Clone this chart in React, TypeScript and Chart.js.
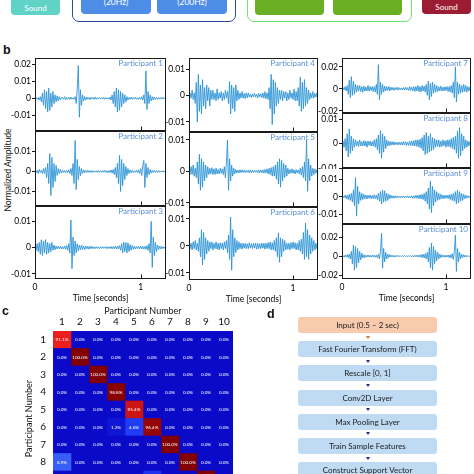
import React, { useEffect, useRef } from "react";
import { Chart, registerables } from "chart.js";
Chart.register(...registerables);

const FONT = "Lato, 'Open Sans', sans-serif";

// ---------- panel b: waveforms (values in units of 0.001) ----------
const SAMPLE_DT = 0.01;
const WAVE_UNIT = 0.001;
const TIME_MAX = 1.24;
const TIME_TICKS = [0, 1];

const WAVE_P1 = [0,0.5,-0.5,0.5,-1, 1,-2,3,-4,5,-6,4,-8,6,-7,3,-5,4,-3,2,-2,1.5,-1.5,1,-1,0.5, 0.5,-0.5,1,-0.8,0.6,-0.5,0.5,-0.6,0.8,-0.5,0.3,-0.5, 1,-3,6,19,-11,5,-4,2,-1.5, 1,-1,0.8,-0.5,0.5,-0.8,0.6,-0.4,0.5,-0.5,0.8,-0.6,0.4,-0.4,0.5,-0.3,0.4,-0.5,0.6,-0.5,0.4,-0.4,0.3,-0.5,0.8,-1, 2,-3,4,-5,6,-8,5,-7,4,-5,3,-3,2,-2,1,-1, 0.5,-0.5,0.8,-0.6,0.5,-0.4,0.6,-0.5,0.4,-0.6,0.5,-0.5,1,-1, 2,-3,16,-6.5,4,-3,2, -1.5,1,-1,0.8,-0.6,0.5,-0.5,0.6,-0.4,0.5,-0.5,0.6,-0.3,0.4,0];
const WAVE_P2 = [0,-0.5,0.5,-1,1,-0.5,0.5,-1,1.5,-1, 2,-3,4,-6,9,-12,7,-8,4,-5,3,-2,1.5, -1,1,-0.8,0.6,-0.5,0.5,-0.6,0.5,-0.5,0.8,-1,1.5, -2,4,-6,15.5,-9,6,-4,2.5,-2, 1.5,-1,0.8,-0.6,0.5,-0.5,0.6,-0.4,0.4,-0.5,0.5,-0.4,0.3,-0.3,0.4,-0.5,0.5,-0.4,0.3,-0.4,0.5,-0.4,0.6,-0.5,0.4,-0.6,0.5,-0.5,0.8,-0.8,1,-1.5, 2,-3,4,-6,8,-10,6,-7,4,-4,2.5,-2,1.5,-1, 0.8,-0.6,0.5,-0.5,0.4,-0.4,0.6,-0.5,0.8,-1,1.5, -2,3,5.5,-8,4,-3,2,-1.5, 1,-0.8,0.6,-0.5,0.5,-0.4,0.4,-0.5,0.5,-0.4,0.3,-0.3,0.4,-0.3,0.2,0];
const WAVE_P3 = [0.5,-1,1.5,-1.5,2,-2.5,3,-3,2.5,-2,3,-2.5,2,-2,1.5,-1.5,2,-1,1,-0.8, 0.6,-0.5,0.5,-0.4,0.5,-0.5,0.4,-0.5,0.6,-0.6,0.8,-1, 1.5,-2,10.5,-8,4,-3,2.5,-2,1.5, -1.2,1,-0.8,1,-0.7,0.6,-0.8,0.6,-0.5,0.5,-0.6,0.5,-0.4,0.5,-0.4,0.3,-0.4,0.4,-0.3,0.3,-0.4,0.3,-0.3,0.4,-0.3,0.3,-0.3,0.4,-0.4,0.3,-0.3,0.4,-0.5,0.4,-0.4,0.5,-0.5,0.6,-0.5,0.8, -1,1.5,-2,2,-1.5,2,-2,1.8,-1.5,1.2,-1,0.8,-0.6,0.5, -0.5,0.5,-0.4,0.5,-0.5,0.6,-0.5,0.5,-0.6,0.5,-0.6,0.8,-1,1.5, -2,10,-7.5,4,-3,2,-1.5,1, -0.8,0.6,-0.5,0.5,-0.4,0.3,-0.3,0];
const WAVE_P4 = [0,1,-1,2,-1.5,1, -3,5,-10,8,-6,4,-7,6,-4,3,-5,4,-2,3,-4,2,-1.5, 2,-1.5,1,-2,2.5,-1.5,1,-1,1.5,-2,1,-1.5,2,-1,1.5, -3,5.3,-7,4,-5,3,-6,4,-2,2, -1.5,1,-1,1.5,-1,0.8,-1.2,1,-0.8,1,-0.6,0.5,-0.8,0.6,-0.5,0.8,-0.6,0.5,-1,0.8,-0.5,0.6,-0.8,1,-1,1.5,-1.2,1,-1.5, 3,-5,8,-11,6,-7,5,-4,3,-3,2, -1.5,2,-2,1.5,-1,1.5,-2,1,-1.5,2,-1,1,-1.5,2.5,-2,1.5,-2, 3,-4,7,-6,5,-5,6,-4,3,-3,2, -1.5,1,-1,1.5,-1,0.8,-0.6,1,-0.5];
const WAVE_P5 = [0.5,-1,1.5,-1,2,-1.5,1,-2, 3,-4,5.4,-6,4,-5,3,-3,2,-2,1.5, -1,1,-0.8,1.2,-1,0.8,-1,1,-0.8,0.6,-0.8,1,-0.6,0.8,-1,1.5,-2, 3,10,-6,4,-3,2, -1.5,1,-0.8,0.6,-0.5,0.4,-0.5,0.5,-0.4,0.5,-0.3,0.4,-0.4,0.3,-0.3,0.4,-0.5,0.5,-0.4,0.3,-0.3,0.4,-0.3,0.3,-0.4,0.5,-0.5,0.4,-0.4,0.5,-0.6,0.6,-0.5,0.8,-0.8,1,-1,1.2,-1.5,1.5,-1.5,2, -2.5,3,-4,4,-5,3.5,-3,2.5,-2,2,-1.5,1, -0.8,0.6,-0.6,0.8,-0.6,0.5,-0.8,0.6,-0.5,0.5,-0.8,1,-1.2,1.5,-2, 3,-3,10,-6.3,4,-3,2, -1.5,1,-1,0.8,-0.6,0.5,-0.3];
const WAVE_P6 = [0.5,-1,1,-1.5,1.5,-1,2,-1.5,1,-2, 3,-4,6,-7,5,-5,3,-3,2,-2,1.5, -1,1.5,-1.5,1,-1,1.5,-1.2,1,-1.5,1.2,-1,1,-1.5,1.5,-1,2,-2.5, 4,-5,10.7,-9,6,-4,3,-2.5,2, -1.5,1.5,-1,1,-1.2,1,-0.8,1,-1,0.8,-1,1.2,-0.8,0.8,-1,1,-0.8,1,-1.2,1,-1,0.8,-1,1,-0.8,1,-1.2,1,-1,1.2,-1,1.5,-1.5,1.2,-1.5,2,-2, 3,-4,4.8,-6,3,-4,2.5,-2,2,-1.5, 1,-1.2,1,-1.5,1.2,-1,1.5,-1,1.2,-1.5,1,-1.5,2,-2,2.5, -3,5,-5,8.5,-4,6,-5,4,-3,3,-2,2,-1.5, 1,-1,0.5];
const WAVE_P7 = [0,1,-1,2,-2,3, -5,8,-8,11,-6,7,-5,4,-3,3, -2,3,-2.5,2,-3,2.5,-2,1.5,-2,3,-2,2,-1.5,2,-2.5,2,-3,4, -5,22,-10,6,-5,4,-3, 2.5,-2,2,-1.5,2,-2,1.5,-1,1.2,-1.5,1,-1,1.5,-1.2,1,-1,0.8,-1,1,-1.2,1.5,-1,1,-1.5,2,-1.5,1.5,-2,2,-2.5,2,-2,3,-2.5,2,-3,3,-2,2.5,-3, 4,-6,7,-10,5,-7,6,-4,4,-3,3,-2.5, 2,-2,2.5,-2,1.5,-2,2,-1.5,2,-2.5,2,-3,3,-4, 6,-8,20,-12,6,-5,4, -4,3,-3,4,-2.5,3,-3,2,-2,1.5,-1];
const WAVE_P8 = [0,1,-1.5,2, -3,4,-5.5,6,-4,3,-3,2,-1.5, 1.5,-1,1,-1.2,1.5,-1,0.8,-1,1.2,-1,1,-1.5,1,-0.8,1,-1,0.8,-1,1.5,-1.5,2,-2.5, 3.5,-4,5.3,-6,4,-3.5,3,-2,1.5, -1,1,-0.8,0.8,-0.6,0.8,-0.6,0.6,-0.5,0.5,-0.6,0.6,-0.5,0.6,-0.6,0.8,-0.6,0.8,-0.8,0.6,-0.8,1,-0.8,1,-1,1.2,-1,1.5,-1.2,1.5,-1.5,1.8,-2, 2.5,-3,3.5,-4.5,4.5,-4,3,-3.5,4,-3,2.5,-2.5,2,-1.5, 1.5,-1.2,1.5,-1.5,1,-1.2,1.5,-1,1.2,-1.5,1.5,-1.2,1.5,-1.5,2,-2,2.5,-2.5,3, -4,5,-6,6.5,-5,4,-3,3,-2, 1.5,-1.5,1,-1,0.8,-0.5];
const WAVE_P9 = [0,0.5,-0.5,1,-1,1,-1.5,1.5,-2,2, -3,4,-5,11,-11,6,-4,3,-2,2, -1.5,1.5,-1,1,-1.2,1,-0.8,1,-1,0.8,-1,1.2,-1,1,-1.5,2, -2.5,3,-4,4,-3,3.5,-2.5,2,-2,1.5, -1,1,-0.8,0.6,-0.8,0.6,-0.5,0.6,-0.5,0.4,-0.5,0.5,-0.4,0.5,-0.5,0.4,-0.5,0.6,-0.5,0.5,-0.6,0.6,-0.8,0.6,-0.8,1,-0.8,1,-1,1.2,-1.2,1.5,-1.5,2,-2.5,3, -4,5,-7,9,-9,6,-5,4,-3,3,-2,2,-1.5, 1.5,-1,1,-1.2,1,-0.8,1,-1,1.2,-1.5,1.5,-2,2, -2.5,3,-4,4,-3.5,3,-2.5,2,-2,1.5, -1,1,-0.8,0.6,-0.5,0.4,-0.2];
const WAVE_P10 = [0,0.5,-1,1,-1,1.5,-1.5,2,-3, 5,-8,11.6,-14.7,10,-12,8,-7,5,-4,3,-2, 1.5,-1.5,1,-1,1.2,-1,0.8,-1,1,-0.8,1,-1.2,1,-1.5,2,-3, 5,24,-12.6,8,-6,4,-3,2, -1.5,1.5,-1,1,-0.8,0.8,-1,0.8,-0.6,0.8,-0.6,0.5,-0.6,0.5,-0.5,0.6,-0.5,0.5,-0.6,0.6,-0.5,0.6,-0.8,0.6,-0.8,1,-0.8,1,-1,1.2,-1,1.5,-1.5,2,-2,2.5,-3,4, -6,9,-12,13.7,-14.7,10,-8,6,-5,4,-3,2, -1.5,1.5,-1,1,-1.2,1,-1,1.2,-1.5,1.5,-2,2.5,-3.5, 5,22,-16,8,-6,4,-3,2, -1.5,1.5,-1,1,-0.8,0.6,-0.5,0.4,0];

const WAVES = [WAVE_P1, WAVE_P2, WAVE_P3, WAVE_P4, WAVE_P5, WAVE_P6, WAVE_P7, WAVE_P8, WAVE_P9, WAVE_P10];
const PARTICIPANT_LABELS = ["Participant 1","Participant 2","Participant 3","Participant 4","Participant 5","Participant 6","Participant 7","Participant 8","Participant 9","Participant 10"];
const Y_MIN = [-0.019, -0.0172, -0.0119, -0.0138, -0.0113, -0.0126, -0.022, -0.01, -0.0155, -0.024];
const Y_MAX = [0.0235, 0.0202, 0.0158, 0.0142, 0.0125, 0.0144, 0.028, 0.0125, 0.0165, 0.0337];
const Y_TICKS = [
  [-0.01, 0, 0.01, 0.02],
  [-0.01, 0, 0.01],
  [-0.01, 0, 0.01],
  [-0.01, 0, 0.01],
  [-0.01, 0, 0.01],
  [-0.01, 0, 0.01],
  [-0.02, 0, 0.02],
  [-0.01, 0, 0.01],
  [-0.01, 0, 0.01],
  [-0.02, 0, 0.02],
];

// layout of plot areas (pixels)
const PLOT_BOXES = [
  { x: 35, y: 58, w: 131, h: 73, bottom: false },
  { x: 35, y: 131, w: 131, h: 75, bottom: false },
  { x: 35, y: 206, w: 131, h: 73, bottom: true },
  { x: 189, y: 58, w: 129, h: 74, bottom: false },
  { x: 189, y: 132, w: 129, h: 75, bottom: false },
  { x: 189, y: 207, w: 129, h: 73, bottom: true },
  { x: 342, y: 58, w: 129, h: 55, bottom: false },
  { x: 342, y: 113, w: 129, h: 55, bottom: false },
  { x: 342, y: 168, w: 129, h: 56, bottom: false },
  { x: 342, y: 224, w: 129, h: 55, bottom: true },
];

// ---------- panel c: confusion matrix (%) ----------
const CM_ROW_LABELS = ["1","2","3","4","5","6","7","8","9","10"];
const CM_COL_LABELS = ["1","2","3","4","5","6","7","8","9","10"];
const CM_VALUES = [
  [91.1, 0, 0, 0, 0, 0, 0, 0, 0, 0],
  [0, 100, 0, 0, 0, 0, 0, 0, 0, 0],
  [0, 0, 100, 0, 0, 0, 0, 0, 0, 0],
  [0, 0, 0, 98.8, 0, 0, 0, 0, 0, 0],
  [0, 0, 0, 0, 95.4, 0, 0, 0, 0, 0],
  [0, 0, 0, 1.2, 4.6, 96.4, 0, 0, 0, 0],
  [0, 0, 0, 0, 0, 0, 100, 0, 0, 0],
  [8.9, 0, 0, 0, 0, 0, 0, 100, 0, 0],
  [0, 0, 0, 0, 0, 3.6, 0, 0, 100, 0],
  [0, 0, 0, 0, 0, 0, 0, 0, 0, 100],
];
const CM_STOPS = [0, 5, 9, 91, 95.4, 96.4, 100];
const CM_STOP_COLORS = [[10,10,200],[35,65,250],[55,95,245],[238,30,30],[205,20,20],[150,5,5],[130,0,0]];

// ---------- panel d: pipeline ----------
const FLOW_STEPS = ["Input (0.5 \u2013 2 sec)", "Fast Fourier Transform (FFT)", "Rescale [0, 1]", "Conv2D Layer", "Max Pooling Layer", "Train Sample Features", "Construct Support Vector"];

function cmColor(v: number) {
  for (let k = 1; k < CM_STOPS.length; k++) {
    if (v <= CM_STOPS[k]) {
      const t = (v - CM_STOPS[k - 1]) / (CM_STOPS[k] - CM_STOPS[k - 1]);
      const a = CM_STOP_COLORS[k - 1], b = CM_STOP_COLORS[k];
      const c = a.map((x, i) => Math.round(x + (b[i] - x) * t));
      return `rgb(${c[0]},${c[1]},${c[2]})`;
    }
  }
  const l = CM_STOP_COLORS[CM_STOP_COLORS.length - 1];
  return `rgb(${l[0]},${l[1]},${l[2]})`;
}

const waveDecor = {
  id: "waveDecor",
  afterDraw(chart: any, _args: any, opts: any) {
    const { ctx, chartArea: a, scales } = chart;
    ctx.save();
    ctx.strokeStyle = "#1a1a1a";
    ctx.lineWidth = 1;
    const l = Math.round(a.left) + 0.5, t = Math.round(a.top) + 0.5;
    const r = Math.round(a.right) - 0.5, b = Math.round(a.bottom) - 0.5;
    ctx.strokeRect(l, t, r - l, b - t);
    const x1 = Math.round(scales.x.getPixelForValue(1)) + 0.5;
    ctx.beginPath();
    ctx.moveTo(x1, b);
    ctx.lineTo(x1, b - 4);
    ctx.stroke();
    ctx.fillStyle = "#5a8fd6";
    ctx.font = `8px ${FONT}`;
    ctx.textAlign = "right";
    ctx.textBaseline = "middle";
    ctx.fillText(opts.label, a.right - 3, a.top + 5.5);
    ctx.restore();
  },
};

function WavePlot({ idx }: { idx: number }) {
  const ref = useRef<HTMLCanvasElement>(null);
  const box = PLOT_BOXES[idx];
  const padTop = 7, padRight = 3, axisW = 31;
  const xAxisH = box.bottom ? 24 : 0;
  const padBottom = box.bottom ? 0 : 1;
  const cw = box.w + axisW + padRight;
  const ch = box.h + padTop + xAxisH + padBottom;
  useEffect(() => {
    const values = WAVES[idx];
    const chart = new Chart(ref.current as HTMLCanvasElement, {
      type: "line",
      data: {
        datasets: [{
          data: values.map((v, i) => ({ x: i * SAMPLE_DT, y: v * WAVE_UNIT })),
          borderColor: "#2e94d6",
          borderWidth: 0.9,
          pointRadius: 0,
          tension: 0,
        }],
      },
      options: {
        animation: false,
        responsive: false,
        devicePixelRatio: 1,
        layout: { padding: { top: padTop, right: padRight, bottom: padBottom, left: 0 } },
        plugins: { legend: { display: false }, tooltip: { enabled: false }, waveDecor: { label: PARTICIPANT_LABELS[idx] } } as any,
        scales: {
          x: {
            type: "linear",
            min: 0,
            max: TIME_MAX,
            display: box.bottom,
            afterBuildTicks: (a: any) => { a.ticks = TIME_TICKS.map((v) => ({ value: v })); },
            afterFit: (a: any) => { a.height = xAxisH; a.paddingLeft = 0; a.paddingRight = 0; },
            grid: { display: false, drawTicks: false },
            border: { display: false },
            ticks: { padding: 3, color: "#000", font: { family: FONT, size: 8.5 }, callback: (v: any) => String(v) },
            title: { display: true, text: "Time [seconds]", color: "#000", font: { family: FONT, size: 8.5 }, padding: { top: -7, bottom: 0 } },
          },
          y: {
            type: "linear",
            min: Y_MIN[idx],
            max: Y_MAX[idx],
            afterBuildTicks: (a: any) => { a.ticks = Y_TICKS[idx].map((v) => ({ value: v })); },
            afterFit: (a: any) => { a.width = axisW; a.paddingTop = 0; a.paddingBottom = 0; },
            grid: { drawOnChartArea: false, drawTicks: true, tickLength: 3, color: "#1a1a1a" },
            border: { display: false },
            ticks: { padding: 1, color: "#000", font: { family: FONT, size: 8.5 }, callback: (v: any) => (v === 0 ? "0" : Number(v).toFixed(2)) },
          },
        },
      } as any,
      plugins: [waveDecor],
    });
    return () => chart.destroy();
  }, []);
  return (
    <canvas
      ref={ref}
      width={cw}
      height={ch}
      style={{ position: "absolute", left: box.x - axisW, top: box.y - padTop, width: cw, height: ch }}
    />
  );
}

const cellText = {
  id: "cellText",
  beforeDatasetsDraw(chart: any) {
    const { ctx, chartArea: a } = chart;
    ctx.save();
    ctx.fillStyle = cmColor(0);
    ctx.fillRect(a.left, a.top, a.width, a.height);
    ctx.restore();
  },
  afterDatasetsDraw(chart: any) {
    const { ctx } = chart;
    ctx.save();
    ctx.fillStyle = "#ffffff";
    ctx.font = `4.6px ${FONT}`;
    ctx.textAlign = "center";
    ctx.textBaseline = "middle";
    chart.data.datasets.forEach((_ds: any, j: number) => {
      const meta = chart.getDatasetMeta(j);
      meta.data.forEach((el: any, i: number) => {
        const p = el.getProps(["x", "y", "base"], true);
        ctx.fillText(CM_VALUES[i][j].toFixed(1) + "%", (p.x + p.base) / 2, p.y);
      });
    });
    ctx.restore();
  },
};

function ConfusionMatrix() {
  const ref = useRef<HTMLCanvasElement>(null);
  const cw = 240, ch = 206, axisW = 53, axisH = 31;
  useEffect(() => {
    const chart = new Chart(ref.current as HTMLCanvasElement, {
      type: "bar",
      data: {
        labels: CM_ROW_LABELS,
        datasets: CM_COL_LABELS.map((_c, j) => ({
          data: CM_ROW_LABELS.map(() => 1),
          backgroundColor: CM_VALUES.map((row) => cmColor(row[j])),
          borderWidth: 0,
          barPercentage: 1,
          categoryPercentage: 1,
        })),
      },
      options: {
        indexAxis: "y",
        animation: false,
        responsive: false,
        devicePixelRatio: 1,
        layout: { padding: { top: 0, right: cw - 233, bottom: 0, left: 0 } },
        plugins: { legend: { display: false }, tooltip: { enabled: false } },
        scales: {
          x: {
            type: "linear",
            position: "top",
            stacked: true,
            min: 0,
            max: CM_COL_LABELS.length,
            afterBuildTicks: (a: any) => { a.ticks = CM_COL_LABELS.map((_l, i) => ({ value: i + 0.5 })); },
            afterFit: (a: any) => { a.height = axisH; a.paddingLeft = 0; a.paddingRight = 0; },
            grid: { display: false, drawTicks: false },
            border: { display: false },
            ticks: { padding: 3, color: "#111", font: { family: FONT, size: 10 }, callback: (_v: any, i: number) => CM_COL_LABELS[i] },
            title: { display: true, text: "Participant Number", color: "#111", font: { family: FONT, size: 9 }, padding: { top: 6, bottom: 0 } },
          },
          y: {
            type: "category",
            stacked: true,
            afterFit: (a: any) => { a.width = axisW; a.paddingTop = 0; a.paddingBottom = 0; },
            grid: { display: false, drawTicks: false },
            border: { display: false },
            ticks: { padding: 7, color: "#111", font: { family: FONT, size: 10 } },
            title: { display: true, text: "Participant Number", color: "#111", font: { family: FONT, size: 9 }, padding: { top: 24, bottom: 0 } },
          },
        },
      } as any,
      plugins: [cellText],
    });
    return () => chart.destroy();
  }, []);
  return (
    <canvas
      ref={ref}
      width={cw}
      height={ch}
      style={{ position: "absolute", left: 0, top: 300, width: cw, height: ch }}
    />
  );
}

const panelLetter = (t: string, left: number, top: number) => (
  <div style={{ position: "absolute", left, top, font: "bold 12.5px 'Liberation Sans', Arial, sans-serif", lineHeight: "12px", color: "#111" }}>{t}</div>
);

function Box(props: { left: number; top: number; width: number; height: number; bg: string; text?: string; textBottom?: number; fontSize?: number }) {
  const { left, top, width, height, bg, text, textBottom = 2, fontSize = 8 } = props;
  return (
    <div style={{ position: "absolute", left, top, width, height, background: bg, borderRadius: 4, overflow: "hidden" }}>
      {text ? (
        <div style={{ position: "absolute", left: 0, right: 0, bottom: textBottom, textAlign: "center", color: "#fff", fontFamily: FONT, fontSize, lineHeight: "9px" }}>{text}</div>
      ) : null}
    </div>
  );
}

export default function App() {
  const flowTop = 317, flowStep = 24.2, flowH = 16, flowLeft = 298, flowW = 139;
  return (
    <div style={{ position: "fixed", left: 0, top: 0, width: 474, height: 474, overflow: "hidden", background: "#fff" }}>
      {/* top strip */}
      <Box left={11} top={-10} width={49} height={25} bg="#5fd3c6" text="Sound" textBottom={2.5} />
      <div style={{ position: "absolute", left: 72, top: -20, width: 162, height: 40, border: "1.5px solid #2c4b9b", borderRadius: 7 }} />
      <Box left={81} top={-10} width={70} height={24} bg="#4d8de8" text="(20Hz)" textBottom={7} fontSize={8.5} />
      <Box left={157} top={-10} width={70} height={24} bg="#4d8de8" text="(200Hz)" textBottom={7} fontSize={8.5} />
      <div style={{ position: "absolute", left: 247, top: -20, width: 163, height: 40, border: "1.5px solid #72e072", borderRadius: 7 }} />
      <Box left={255} top={-10} width={69} height={25} bg="#6bb022" />
      <Box left={333} top={-10} width={69} height={25} bg="#6bb022" />
      <Box left={422} top={-10} width={49} height={24} bg="#9c1c33" text="Sound" textBottom={2.5} />

      {/* panel b */}
      {panelLetter("b", 3, 44)}
      <div style={{ position: "absolute", left: 8, top: 170, transform: "translate(-50%, -50%) rotate(-90deg)", whiteSpace: "nowrap", fontFamily: FONT, fontSize: 8.5, color: "#111" }}>Normalized Amplitude</div>
      {PLOT_BOXES.map((_b, i) => <WavePlot key={i} idx={i} />)}

      {/* panel c */}
      {panelLetter("c", 2, 305)}
      <ConfusionMatrix />

      {/* panel d */}
      {panelLetter("d", 267, 308)}
      {FLOW_STEPS.map((s, i) => (
        <div key={s} style={{ position: "absolute", left: flowLeft, top: flowTop + i * flowStep, width: flowW, height: flowH, background: i === 0 ? "#f8cbae" : "#bfdbf4", borderRadius: 3, display: "flex", alignItems: "center", justifyContent: "center", fontFamily: FONT, fontSize: 8, color: "#1a1a1a", whiteSpace: "nowrap" }}>{s}</div>
      ))}
      {FLOW_STEPS.slice(1).map((s, i) => (
        <div key={"a" + s} style={{ position: "absolute", left: flowLeft + flowW / 2 - 2, top: flowTop + i * flowStep + flowH + 2.5, width: 0, height: 0, borderLeft: "2px solid transparent", borderRight: "2px solid transparent", borderTop: `3px solid ${i === 0 ? "#e8602c" : "#1f2f7a"}` }} />
      ))}
    </div>
  );
}
